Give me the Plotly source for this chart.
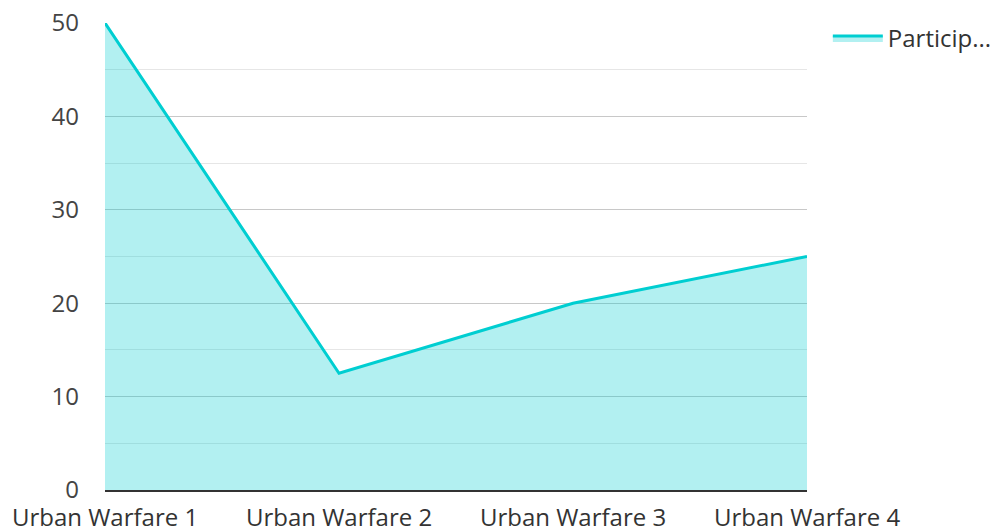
import plotly.graph_objects as go

categories = ["Urban Warfare 1", "Urban Warfare 2", "Urban Warfare 3", "Urban Warfare 4"]
values = [50, 12.5, 20, 25]
series_name = "Particip..."
y_ticks = [0, 10, 20, 30, 40, 50]

fig = go.Figure()
fig.add_trace(go.Scatter(
    x=categories, y=values, name=series_name, mode="lines",
    fill="tozeroy", fillcolor="rgba(0,206,209,0.3)",
    line=dict(color="#00CED1", width=3),
))

fig.update_layout(
    width=1001, height=531,
    margin=dict(l=105, r=194, t=23, b=41),
    paper_bgcolor="white", plot_bgcolor="white",
    font=dict(family="Open Sans", size=24, color="#444"),
    showlegend=True,
    legend=dict(xref="container", yref="container", x=0.827, y=0.97,
                xanchor="left", yanchor="top",
                font=dict(size=24, color="#333"), itemwidth=50),
    xaxis=dict(type="category", range=[0, 3], showgrid=False, automargin=False,
               showline=True, linecolor="#333", linewidth=2,
               ticks="", ticklabelstandoff=5,
               tickfont=dict(size=24, color="#333")),
    yaxis=dict(range=[0, 50], tickvals=y_ticks, showgrid=True, automargin=False,
               gridcolor="#c8c8c8", gridwidth=1, zeroline=False,
               ticks="", ticklabelstandoff=25,
               tickfont=dict(size=24, color="#444"),
               minor=dict(dtick=5, showgrid=True, gridcolor="#e6e6e6", gridwidth=1)),
)

fig.write_html("out.html", config={"displayModeBar": False},
               post_script="document.body.style.margin='0';")
